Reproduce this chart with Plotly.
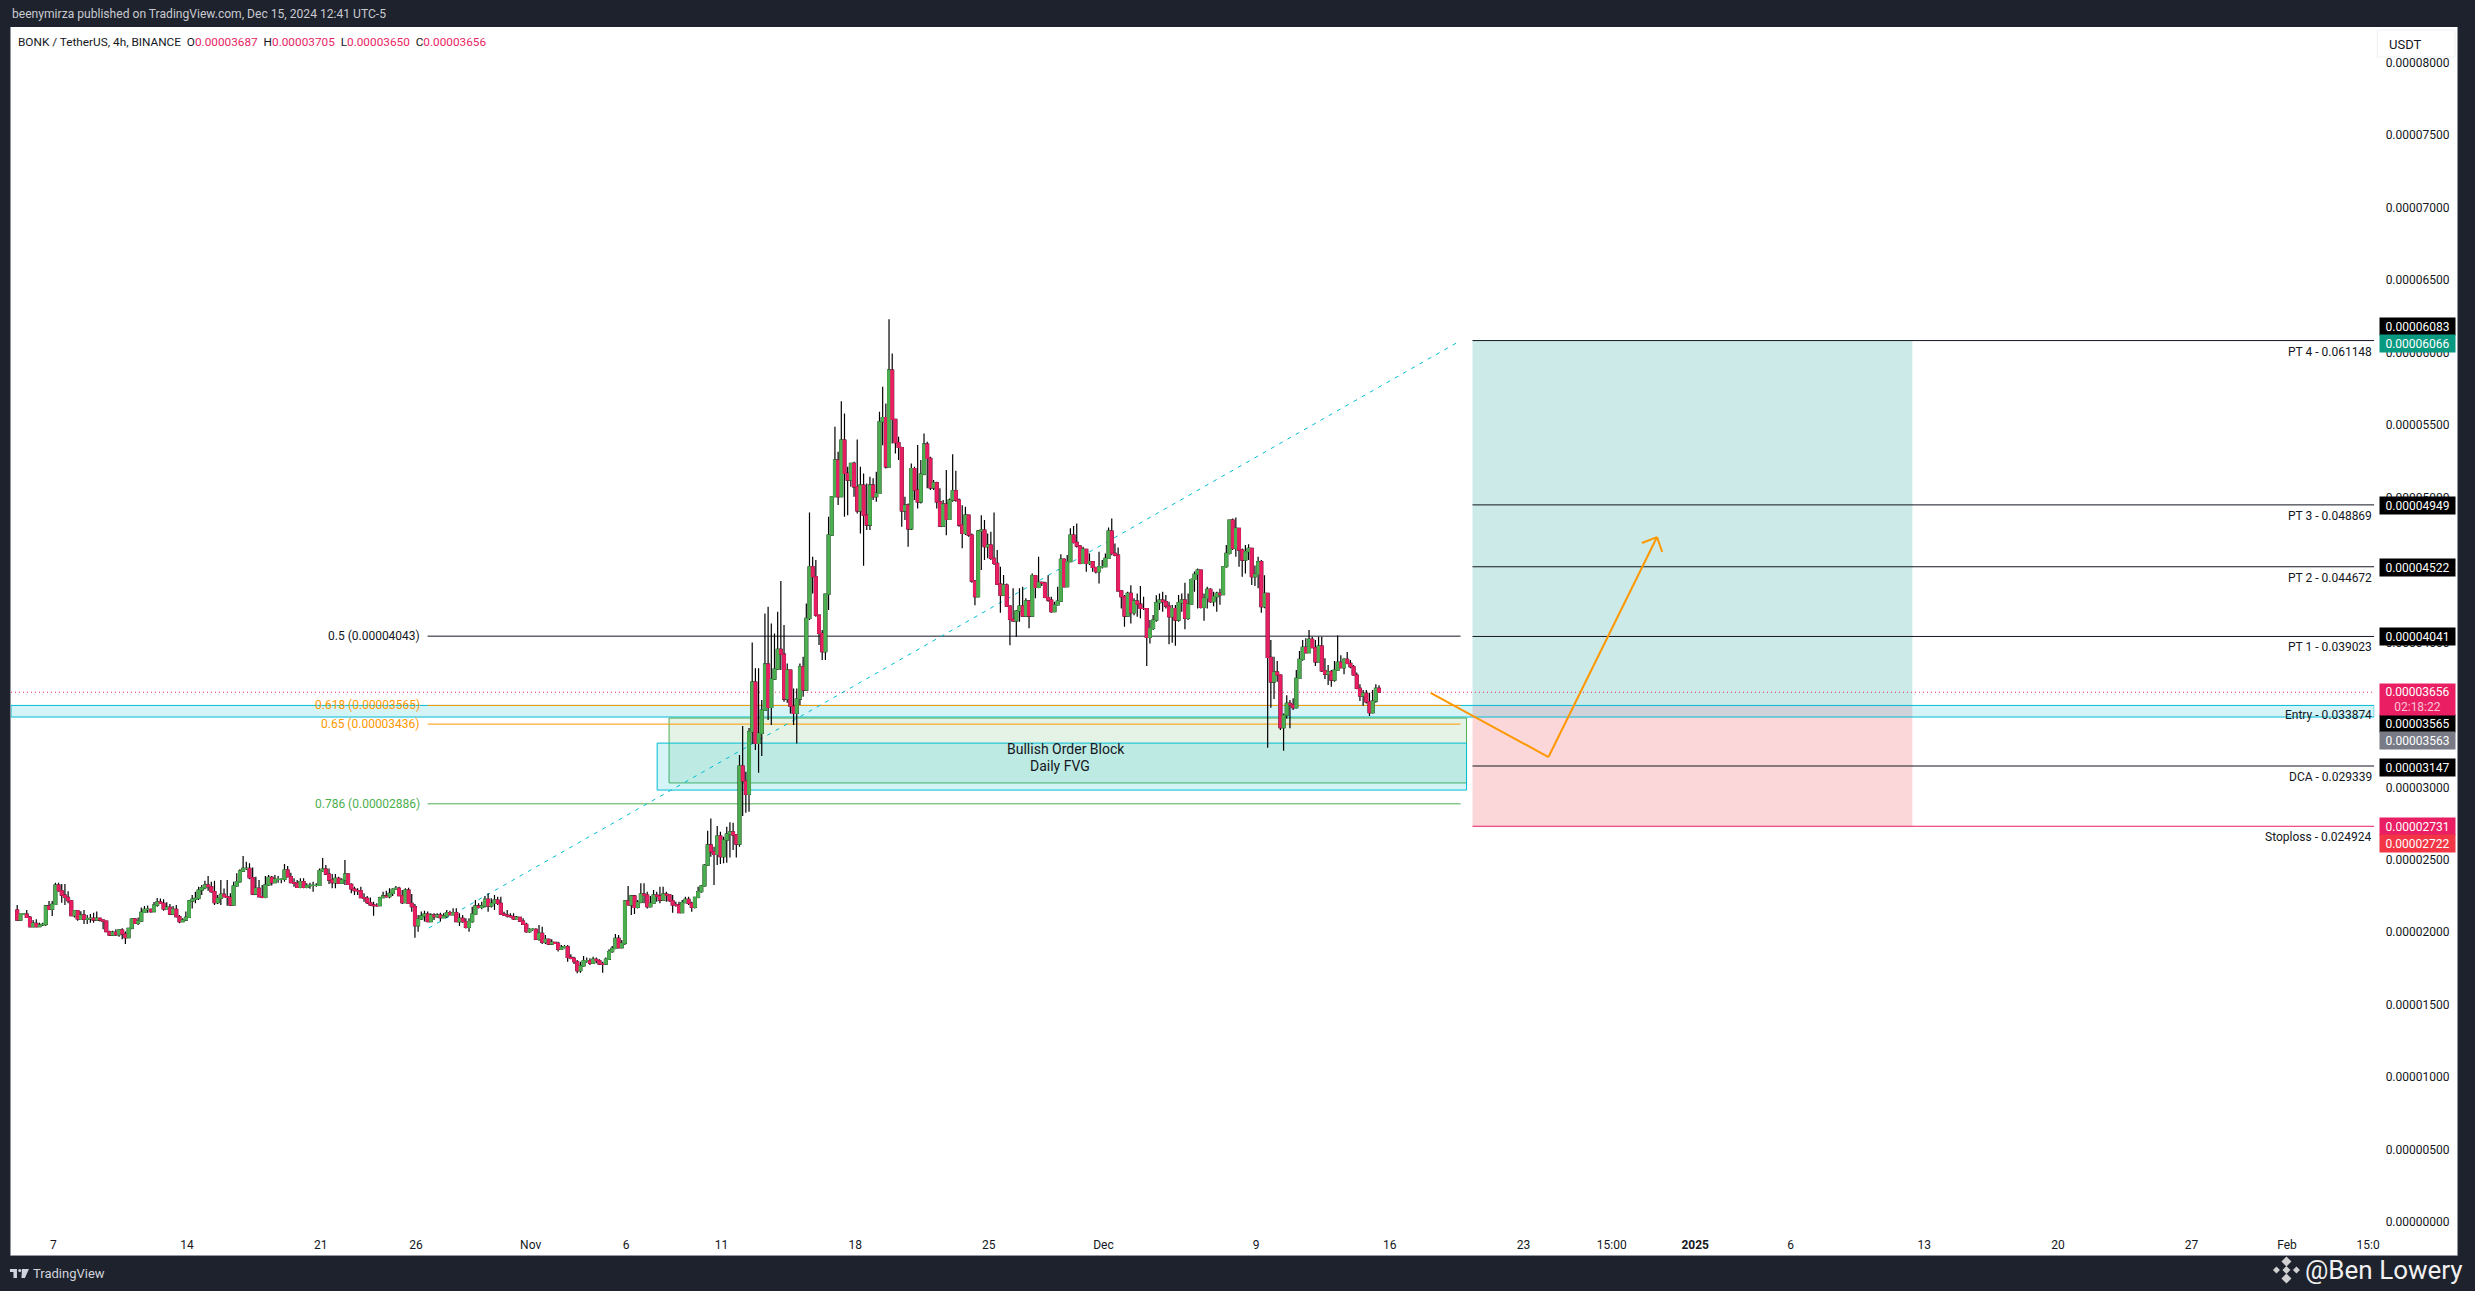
"""BONK / TetherUS 4h chart with fib levels, zones and a long position sketch."""

import pandas as pd
import plotly.graph_objects as go

WIDTH, HEIGHT = 2475, 1291
PRICE_UNIT = 1e-8  # all prices below are in units of 0.00000001

# 4h candles (each open is the previous close)
first_open = 2153
first_bar = "2024-10-05 02:30"
closes = [
    2084, 2125, 2125, 2102, 2038, 2061, 2038, 2050, 2054, 2181,
    2158, 2192, 2325, 2286, 2256, 2240, 2217, 2114, 2148, 2091,
    2118, 2089, 2093, 2096, 2084, 2096, 2084, 2077, 2003, 1980,
    1999, 1983, 2015, 1987, 1962, 2027, 2091, 2061, 2077, 2137,
    2158, 2158, 2142, 2187, 2208, 2199, 2160, 2171, 2125, 2158,
    2107, 2072, 2084, 2102, 2215, 2227, 2234, 2291, 2307, 2325,
    2314, 2280, 2204, 2234, 2261, 2245, 2240, 2187, 2319, 2348,
    2422, 2440, 2440, 2376, 2263, 2302, 2245, 2240, 2326, 2378,
    2342, 2365, 2365, 2365, 2429, 2383, 2342, 2337, 2309, 2349,
    2309, 2321, 2323, 2323, 2323, 2424, 2436, 2401, 2360, 2342,
    2372, 2337, 2360, 2401, 2330, 2298, 2286, 2286, 2238, 2234,
    2204, 2188, 2183, 2183, 2238, 2250, 2245, 2268, 2296, 2303,
    2252, 2204, 2291, 2199, 2176, 2045, 2091, 2112, 2125, 2073,
    2118, 2107, 2118, 2100, 2112, 2135, 2121, 2135, 2073, 2096,
    2073, 2033, 2073, 2125, 2181, 2171, 2181, 2227, 2181, 2199,
    2222, 2199, 2125, 2118, 2112, 2107, 2091, 2102, 2077, 2054,
    2003, 2020, 2020, 1951, 1992, 1930, 1951, 1918, 1930, 1923,
    1882, 1895, 1900, 1826, 1820, 1796, 1734, 1767, 1803, 1803,
    1785, 1813, 1803, 1780, 1780, 1813, 1866, 1888, 1957, 1893,
    1923, 2215, 2188, 2250, 2171, 2206, 2263, 2256, 2176, 2199,
    2256, 2250, 2222, 2263, 2257, 2217, 2188, 2188, 2135, 2204,
    2227, 2199, 2171, 2240, 2280, 2319, 2463, 2602, 2555, 2537,
    2664, 2521, 2636, 2677, 2691, 2671, 2608, 3147, 3043, 2951, 3384,
    3726, 3303, 3372, 3533, 3850, 3551, 3747, 3816, 3952, 3919,
    3609, 3809, 3560, 3510, 3609, 3832, 3671, 4166, 4522, 4453,
    4188, 4062, 3936, 4333, 4741, 5005, 5258, 5005, 5396, 5166,
    5120, 5235, 5074, 4908, 5085, 4878, 4810, 5085, 5005, 5028,
    5522, 5552, 5212, 5879, 5539, 5378, 5345, 4908, 4947, 4784,
    5200, 5051, 4970, 5161, 5368, 5270, 5067, 5102, 4970, 4803,
    4954, 4849, 4982, 5046, 4982, 4810, 4752, 4878, 4741, 4423,
    4315, 4768, 4775, 4660, 4672, 4580, 4545, 4402, 4326, 4396,
    4251, 4159, 4149, 4216, 4251, 4182, 4285, 4182, 4460, 4379,
    4414, 4410, 4310, 4292, 4212, 4258, 4285, 4573, 4384, 4557,
    4741, 4690, 4665, 4545, 4642, 4545, 4557, 4517, 4488, 4522,
    4522, 4580, 4768, 4614, 4602, 4356, 4315, 4182, 4338, 4205,
    4285, 4264, 4234, 4234, 4034, 4096, 4154, 4274, 4292, 4281,
    4251, 4177, 4234, 4154, 4274, 4292, 4166, 4264, 4434, 4470,
    4499, 4241, 4304, 4366, 4281, 4315, 4338, 4330,
    4522, 4614, 4844, 4649, 4787, 4637, 4568, 4626, 4649, 4453, 4470,
    4557, 4246, 4338,
    3896, 3728, 3795, 3775, 3411, 3498, 3579, 3568, 3549, 3752,
    3883, 3965, 3929, 4021, 3963, 3866, 3975, 3804, 3781, 3797,
    3740, 3809, 3862, 3825, 3883, 3855, 3832, 3775, 3683, 3630,
    3648, 3590, 3515, 3595, 3683, 3656,
]
highs = [
    2187, 2125, 2130, 2153, 2112, 2084, 2089, 2066, 2066, 2187,
    2215, 2215, 2342, 2342, 2332, 2332, 2282, 2222, 2153, 2153,
    2144, 2153, 2118, 2125, 2135, 2142, 2102, 2089, 2077, 2010,
    2010, 2020, 2020, 2027, 2004, 2027, 2098, 2098, 2102, 2171,
    2181, 2185, 2164, 2208, 2236, 2233, 2227, 2206, 2194, 2181,
    2187, 2118, 2096, 2142, 2222, 2256, 2280, 2314, 2325, 2355,
    2388, 2348, 2355, 2256, 2360, 2302, 2360, 2268, 2348, 2406,
    2434, 2526, 2486, 2475, 2447, 2383, 2360, 2326, 2388, 2395,
    2388, 2395, 2388, 2372, 2470, 2457, 2411, 2372, 2360, 2372,
    2372, 2337, 2342, 2349, 2337, 2440, 2512, 2463, 2440, 2401,
    2401, 2383, 2372, 2498, 2406, 2337, 2314, 2303, 2314, 2268,
    2250, 2240, 2211, 2199, 2245, 2280, 2286, 2303, 2303, 2319,
    2314, 2291, 2303, 2307, 2263, 2194, 2118, 2142, 2148, 2142,
    2130, 2130, 2130, 2135, 2130, 2153, 2148, 2165, 2165, 2130,
    2118, 2096, 2096, 2176, 2222, 2199, 2211, 2250, 2268, 2234,
    2257, 2245, 2245, 2141, 2153, 2130, 2130, 2112, 2107, 2096,
    2066, 2027, 2027, 2027, 2050, 2038, 1980, 1957, 1951, 1934,
    1934, 1911, 1911, 1911, 1847, 1831, 1808, 1796, 1836, 1826,
    1820, 1831, 1826, 1813, 1796, 1826, 1882, 1905, 1987, 1980,
    1946, 2222, 2319, 2257, 2257, 2222, 2337, 2337, 2280, 2250,
    2291, 2280, 2314, 2314, 2280, 2257, 2257, 2211, 2211, 2222,
    2245, 2245, 2211, 2245, 2314, 2326, 2470, 2700, 2785, 2590,
    2733, 2693, 2659, 2728, 2758, 2756, 2671, 3223, 3423, 3108, 3410,
    3999, 3821, 3821, 3602, 4200, 4246, 4131, 4062, 4212, 4423,
    4120, 3855, 3809, 3682, 3682, 3855, 3901, 4269, 4897, 4591,
    4568, 4188, 4085, 4338, 4867, 5005, 5488, 5316, 5665, 5580,
    5212, 5235, 5247, 5401, 5212, 5166, 5097, 5143, 5132, 5177,
    5592, 5764, 5649, 6231, 5994, 5534, 5419, 5350, 5005, 4959,
    5235, 5212, 5362, 5258, 5442, 5385, 5281, 5120, 5108, 5063,
    4982, 5189, 4993, 5299, 5184, 4993, 4947, 4936, 4878, 4752,
    4430, 4775, 4878, 4844, 4752, 4764, 4897, 4637, 4522, 4465,
    4407, 4257, 4373, 4223, 4373, 4384, 4304, 4292, 4476, 4464,
    4591, 4420, 4418, 4464, 4315, 4281, 4384, 4609, 4580, 4603,
    4787, 4803, 4821, 4672, 4660, 4637, 4614, 4557, 4522, 4626,
    4568, 4614, 4793, 4855, 4683, 4655, 4361, 4327, 4350, 4395,
    4304, 4338, 4389, 4315, 4234, 4154, 4189, 4326, 4338, 4350,
    4327, 4281, 4258, 4258, 4327, 4338, 4412, 4338, 4441, 4490,
    4510, 4503, 4338, 4384, 4373, 4350, 4350, 4370,
    4522, 4672, 4849, 4855, 4862, 4787, 4648, 4672, 4678, 4649, 4530,
    4591, 4568, 4464,
    4340, 4016, 3901, 3871, 3781, 3510, 3636, 3602, 3614, 3809,
    3940, 4016, 4028, 4085, 4039, 4016, 4039, 4039, 3890, 3844,
    3809, 3871, 4048, 3912, 3890, 3933, 3878, 3844, 3793, 3712,
    3671, 3671, 3653, 3671, 3712, 3705,
]
lows = [
    2084, 2095, 2118, 2102, 2033, 2033, 2033, 2038, 2043, 2043,
    2153, 2112, 2187, 2280, 2204, 2187, 2199, 2112, 2102, 2079,
    2089, 2056, 2056, 2066, 2066, 2079, 2073, 2020, 1999, 1974,
    1974, 1974, 1969, 1951, 1918, 1962, 2020, 2056, 2050, 2073,
    2135, 2135, 2135, 2142, 2176, 2194, 2148, 2164, 2118, 2121,
    2102, 2061, 2073, 2077, 2100, 2164, 2199, 2222, 2256, 2296,
    2286, 2273, 2187, 2194, 2187, 2240, 2183, 2181, 2187, 2314,
    2342, 2418, 2429, 2365, 2257, 2257, 2240, 2234, 2234, 2319,
    2323, 2337, 2342, 2337, 2349, 2378, 2337, 2314, 2305, 2303,
    2303, 2303, 2300, 2280, 2314, 2319, 2418, 2394, 2332, 2303,
    2303, 2332, 2332, 2326, 2326, 2268, 2257, 2257, 2234, 2211,
    2194, 2181, 2114, 2176, 2181, 2234, 2240, 2234, 2250, 2291,
    2250, 2194, 2199, 2194, 2141, 1962, 2003, 2084, 2073, 2068,
    2073, 2084, 2100, 2073, 2096, 2100, 2116, 2116, 2068, 2043,
    2066, 2026, 2003, 2066, 2125, 2164, 2158, 2171, 2141, 2171,
    2153, 2188, 2125, 2112, 2102, 2102, 2084, 2089, 2073, 2050,
    1997, 1997, 2010, 1946, 1941, 1918, 1918, 1911, 1911, 1918,
    1866, 1877, 1888, 1796, 1813, 1780, 1716, 1721, 1762, 1790,
    1773, 1780, 1785, 1773, 1721, 1773, 1813, 1859, 1882, 1888,
    1888, 1912, 2188, 2118, 2125, 2164, 2199, 2199, 2164, 2171,
    2194, 2211, 2199, 2217, 2211, 2211, 2135, 2176, 2135, 2130,
    2199, 2188, 2141, 2164, 2234, 2273, 2314, 2457, 2521, 2326,
    2463, 2470, 2475, 2480, 2516, 2567, 2516, 2590, 2802, 2825, 2832,
    3300, 3257, 3101, 3216, 3533, 3464, 3430, 3740, 3809, 3809,
    3590, 3584, 3510, 3430, 3303, 3568, 3625, 3666, 4154, 4338,
    4177, 3982, 3878, 3878, 4223, 4741, 5005, 4948, 5005, 4867,
    4878, 5074, 5005, 4890, 4752, 4529, 4775, 4775, 4982, 4971,
    5028, 5361, 5200, 5212, 5373, 5304, 5258, 4798, 4844, 4660,
    4775, 4982, 4924, 4959, 5154, 5063, 5051, 5051, 4924, 4798,
    4798, 4740, 4844, 4970, 4970, 4798, 4649, 4741, 4729, 4412,
    4257, 4310, 4499, 4568, 4580, 4568, 4534, 4396, 4205, 4326,
    4246, 3981, 4143, 4039, 4143, 4177, 4177, 4097, 4177, 4304,
    4373, 4390, 4304, 4281, 4205, 4212, 4258, 4281, 4379, 4384,
    4557, 4683, 4655, 4540, 4545, 4488, 4534, 4488, 4476, 4407,
    4510, 4522, 4580, 4602, 4595, 4350, 4234, 4108, 4200, 4131,
    4188, 4177, 4166, 4223, 3837, 3993, 4085, 4142, 4223, 4212,
    4234, 3988, 3997, 3977, 4143, 4212, 4090, 4154, 4258, 4350,
    4234, 4234, 4149, 4234, 4274, 4250, 4212, 4260,
    4326, 4515, 4607, 4637, 4591, 4522, 4453, 4476, 4568, 4396, 4390,
    4373, 4205, 4235,
    3273, 3549, 3609, 3728, 3395, 3252, 3475, 3407, 3533, 3544,
    3752, 3873, 3924, 3929, 3959, 3837, 3866, 3795, 3747, 3706,
    3694, 3728, 3809, 3821, 3781, 3850, 3821, 3770, 3676, 3595,
    3563, 3579, 3492, 3510, 3584, 3650,
]

# Visible date window of the plot
x_start, x_end = "2024-10-04 18:40", "2025-02-05 13:36"

# Fibonacci levels
fib_labels = ["0.5 (0.00004043)", "0.618 (0.00003565)",
              "0.65 (0.00003436)", "0.786 (0.00002886)"]
fib_prices = [4043, 3565, 3436, 2886]
fib_colors = ["#131722", "#ff9800", "#ff9800", "#4caf50"]
fib_start, fib_end = "2024-10-26 14:24", "2024-12-19 17:00"

# Dashed fib trend line
trend_x = ["2024-10-26 16:00", "2024-12-19 14:00"]
trend_y = [2029, 6073]

# Zones: entry band, order block, daily FVG
entry_zone = [3565, 3485]
ob_zone = [3478, 3030]
fvg_zone = [3305, 2981]
ob_start, fvg_start, zones_end = "2024-11-08 06:00", "2024-11-07 15:00", "2024-12-20 00:30"

# Long position box and take profit lines
pos_start, pos_end = "2024-12-20 08:00", "2025-01-12 09:00"
target_names = ["PT 4 - 0.061148", "PT 3 - 0.048869", "PT 2 - 0.044672", "PT 1 - 0.039023",
                "DCA - 0.029339", "Stoploss - 0.024924"]
target_prices = [6083, 4949, 4522, 4041, 3147, 2731]
target_colors = ["#131722"] * 5 + ["#e91e63"]
entry_label = "Entry - 0.033874"
last_price = 3656

# Projected path (orange zig-zag and arrow head)
path_x = ["2024-12-18 03:20", "2024-12-24 07:30", "2024-12-30 00:00"]
path_y = [3651, 3209, 4727]
head_x = ["2024-12-29 05:00", "2024-12-30 06:30"]
head_y = [4686, 4624]

# Axes
y_ticks = list(range(0, 8001, 500))
x_tick_dates = ["2024-10-07", "2024-10-14", "2024-10-21", "2024-10-26", "2024-11-01", "2024-11-06",
                "2024-11-11", "2024-11-18", "2024-11-25", "2024-12-01", "2024-12-09", "2024-12-16",
                "2024-12-23", "2024-12-27 15:00", "2025-01-01", "2025-01-06", "2025-01-13",
                "2025-01-20", "2025-01-27", "2025-02-01", "2025-02-05 06:00"]
x_tick_text = ["7", "14", "21", "26", "Nov", "6", "11", "18", "25", "Dec", "9", "16", "23",
               "15:00", "<b>2025</b>", "6", "13", "20", "27", "Feb", "15:0"]

# Price scale tags: text, centre in pixels, background
tag_texts = ["0.00006083", "0.00006066", "0.00004949", "0.00004522", "0.00004041",
             "0.00003565", "0.00003563", "0.00003147", "0.00002731", "0.00002722"]
tag_rows = [327, 344, 505, 567, 636, 723, 740, 767, 826, 843]
tag_colors = ["#000000", "#089981", "#000000", "#000000", "#000000",
              "#000000", "#787b86", "#000000", "#e91e63", "#f23645"]

FONT = "Roboto"
DARK = "#1e222d"
INK = "#131722"
GREEN = "#4caf50"
RED = "#e91e63"
CYAN = "#00bcd4"
ORANGE = "#ff9800"


def px_x(p):
    return p / WIDTH


def px_y(p):
    return 1 - p / HEIGHT


def price(v):
    return v * PRICE_UNIT


def text(s, x, y, size=12, color=INK, anchor="left", **kwargs):
    return dict(text=s, xref="paper", yref="paper", x=px_x(x), y=px_y(y), xanchor=anchor,
                yanchor="middle", showarrow=False, font=dict(family=FONT, size=size, color=color),
                **kwargs)


def band(x0, x1, top, bottom, fill, line=None):
    return dict(type="rect", xref="x", yref="y", x0=x0, x1=x1, y0=price(top), y1=price(bottom),
                fillcolor=fill, line=dict(color=line, width=1) if line else dict(width=0),
                layer="below")


def segment(x0, x1, y0, y1, color, width=1, dash="solid"):
    return dict(type="line", xref="x", yref="y", x0=x0, x1=x1, y0=price(y0), y1=price(y1),
                line=dict(color=color, width=width, dash=dash), layer="below")


def polygon(points, color):
    path = "M " + " L ".join(f"{px_x(x)} {px_y(y)}" for x, y in points) + " Z"
    return dict(type="path", xref="paper", yref="paper", path=path, fillcolor=color,
                line=dict(width=0), layer="above")


assert len(closes) == len(highs) == len(lows), (len(closes), len(highs), len(lows))

opens = [first_open] + closes[:-1]
bar_times = pd.date_range(first_bar, periods=len(closes), freq="4h")
body_top = [max(o, c) for o, c in zip(opens, closes)]
body_bottom = [min(o, c) for o, c in zip(opens, closes)]

fig = go.Figure()

# Black wicks first, coloured bodies on top of them
fig.add_trace(go.Candlestick(
    x=bar_times, open=[price(v) for v in opens], high=[price(v) for v in highs],
    low=[price(v) for v in lows], close=[price(v) for v in closes], whiskerwidth=0,
    increasing=dict(line=dict(color="#000000", width=1.2), fillcolor="#000000"),
    decreasing=dict(line=dict(color="#000000", width=1.2), fillcolor="#000000"),
    hoverinfo="skip", showlegend=False,
))
fig.add_trace(go.Candlestick(
    x=bar_times, open=[price(v) for v in opens], high=[price(v) for v in body_top],
    low=[price(v) for v in body_bottom], close=[price(v) for v in closes], whiskerwidth=0,
    increasing=dict(line=dict(color=GREEN, width=1), fillcolor=GREEN),
    decreasing=dict(line=dict(color=RED, width=1), fillcolor=RED),
    showlegend=False,
))

# White chart panel and its thin grey edge
shapes = [
    dict(type="rect", xref="paper", yref="paper", x0=px_x(11), x1=px_x(2463), y0=px_y(27), y1=px_y(1255),
         fillcolor="#ffffff", line=dict(width=0), layer="below"),
    dict(type="path", xref="paper", yref="paper", layer="below", line=dict(color="#9598a1", width=1),
         path=f"M {px_x(10.5)} {px_y(27)} L {px_x(10.5)} {px_y(1255.5)} "
              f"L {px_x(2463.5)} {px_y(1255.5)} L {px_x(2463.5)} {px_y(27)}"),
]

# Position fills sit under the zones
shapes.append(band(pos_start, pos_end, target_prices[0], entry_zone[0], "rgba(0,150,136,0.2)"))
shapes.append(band(pos_start, pos_end, entry_zone[0], target_prices[-1], "rgba(242,54,69,0.2)"))
shapes.append(band(x_start, x_end, entry_zone[0], entry_zone[1], "rgba(0,188,212,0.17)", CYAN))
shapes.append(band(ob_start, zones_end, ob_zone[0], ob_zone[1], "rgba(76,175,80,0.15)", GREEN))
shapes.append(band(fvg_start, zones_end, fvg_zone[0], fvg_zone[1], "rgba(0,188,212,0.17)", CYAN))

for level, color in zip(fib_prices, fib_colors):
    shapes.append(segment(fib_start, fib_end, level, level, color))
for level, color in zip(target_prices, target_colors):
    shapes.append(segment(pos_start, x_end, level, level, color))
shapes.append(segment(x_start, x_end, last_price, last_price, RED, dash="1px,3px"))
shapes.append(segment(trend_x[0], trend_x[1], trend_y[0], trend_y[1], CYAN, dash="4px,5.5px"))

for i in range(len(path_x) - 1):
    shapes.append(segment(path_x[i], path_x[i + 1], path_y[i], path_y[i + 1], ORANGE, width=2))
for hx, hy in zip(head_x, head_y):
    shapes.append(segment(hx, path_x[-1], hy, path_y[-1], ORANGE, width=2))

# USDT button over the top of the price scale
shapes.append(dict(type="rect", xref="paper", yref="paper", x0=px_x(2383), x1=px_x(2461),
                   y0=px_y(30), y1=px_y(57), fillcolor="#ffffff",
                   line=dict(color="#eef0f3", width=1), layer="above"))

# TradingView mark
shapes.append(polygon([(10, 1269), (17, 1269), (17, 1278), (13.5, 1278), (13.5, 1272), (10, 1272)], "#d1d4dc"))
shapes.append(polygon([(22, 1269), (29, 1269), (25, 1278), (21.5, 1278)], "#d1d4dc"))
shapes.append(dict(type="circle", xref="paper", yref="paper", x0=px_x(18.3), x1=px_x(21.3), y0=px_y(1269),
                   y1=px_y(1272), fillcolor="#d1d4dc", line=dict(width=0), layer="above"))

# Binance mark next to the watermark
for dx, dy, r in [(0, 0, 4), (0, -8.5, 5), (0, 8.5, 5), (-10, 0, 3.5), (10, 0, 3.5)]:
    cx, cy = 2292 + dx, 1270 + dy
    shapes.append(polygon([(cx, cy - r), (cx + r, cy), (cx, cy + r), (cx - r, cy)], "#d0d0d0"))

annotations = [
    text("beenymirza published on TradingView.com, Dec 15, 2024 12:41 UTC-5", 10, 14, size=12.1, color="#c8cad0"),
    text("BONK / TetherUS, 4h, BINANCE&nbsp;&nbsp;O<span style='color:#e91e63'>0.00003687</span>"
         "&nbsp;&nbsp;H<span style='color:#e91e63'>0.00003705</span>"
         "&nbsp;&nbsp;L<span style='color:#e91e63'>0.00003650</span>"
         "&nbsp;&nbsp;C<span style='color:#e91e63'>0.00003656</span>", 16, 42, size=11.8),
    text("USDT", 2393, 45, size=13),
    text("Bullish Order Block", 1069, 749, size=14, anchor="center"),
    text("Daily FVG", 1063, 766, size=14, anchor="center"),
    text("TradingView", 31, 1273, size=13, color="#d1d4dc"),
    text("@Ben Lowery", 2471, 1270, size=26, color="#f0f0f0", anchor="right"),
    text(entry_label, 2380, 715, anchor="right"),
]

for label, level, color in zip(fib_labels, fib_prices, fib_colors):
    annotations.append(dict(text=label, xref="paper", yref="y", x=px_x(423), y=price(level), xanchor="right",
                            yanchor="middle", showarrow=False, font=dict(family=FONT, size=12, color=color)))

# Target captions hang just under their lines
for name, level in zip(target_names, target_prices):
    annotations.append(dict(text=name, xref="paper", yref="y", x=px_x(2380), y=price(level), xanchor="right",
                            yanchor="top", yshift=-2, showarrow=False,
                            font=dict(family=FONT, size=12, color=INK)))

tag_font = dict(family=FONT, size=12, color="#ffffff")
for label, row, color in zip(tag_texts, tag_rows, tag_colors):
    annotations.append(dict(text=label, xref="paper", yref="paper", x=px_x(2385), y=px_y(row), xanchor="left",
                            yanchor="middle", showarrow=False, width=75, height=17, borderpad=0,
                            bgcolor=color, font=tag_font, align="center"))
annotations.append(dict(text="0.00003656<br><span style='color:#f8c4d6'>02:18:22</span>", xref="paper", yref="paper",
                        x=px_x(2385), y=px_y(699.5), xanchor="left", yanchor="middle", showarrow=False,
                        width=75, height=31, borderpad=0, bgcolor=RED, font=tag_font, align="center"))

fig.update_layout(
    width=WIDTH, height=HEIGHT,
    margin=dict(l=0, r=0, t=0, b=0),
    paper_bgcolor=DARK, plot_bgcolor="rgba(0,0,0,0)",
    showlegend=False, boxgap=0.12, boxgroupgap=0,
    font=dict(family=FONT, size=12, color=INK),
    shapes=shapes, annotations=annotations,
    xaxis=dict(domain=[px_x(11), px_x(2380)], range=[x_start, x_end], type="date", rangeslider=dict(visible=False),
               showgrid=False, zeroline=False, showline=False,
               tickmode="array", tickvals=x_tick_dates, ticktext=x_tick_text,
               ticks="outside", ticklen=2, tickcolor="rgba(0,0,0,0)", tickfont=dict(family=FONT, size=12, color=INK)),
    yaxis=dict(domain=[px_y(1232), px_y(27)], side="right", anchor="x",
               range=[price((1222 - 1232) * 6.9013), price((1222 - 27) * 6.9013)],
               showgrid=False, zeroline=False, showline=False,
               tickmode="array", tickvals=[price(v) for v in y_ticks], tickformat=".8f",
               ticks="outside", ticklen=8, tickcolor="rgba(0,0,0,0)", tickfont=dict(family=FONT, size=12, color=INK)),
)

# The page's default body margin would push the whole figure 8 px off the canvas
fig.write_html("out.html", config={"displayModeBar": False},
               post_script="document.body.style.margin='0';document.body.style.overflow='hidden';")
